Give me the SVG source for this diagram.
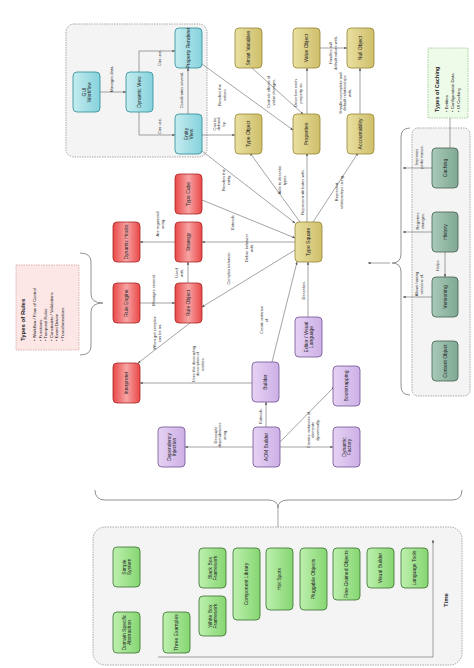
<svg xmlns="http://www.w3.org/2000/svg" width="474" height="668" viewBox="0 0 474 668">
<defs>
<linearGradient id="gC" x1="0" y1="0" x2="1" y2="0"><stop offset="0" stop-color="#c4ecf0"/><stop offset="1" stop-color="#86d2dc"/></linearGradient>
<linearGradient id="gY" x1="0" y1="0" x2="1" y2="0"><stop offset="0" stop-color="#e9df9f"/><stop offset="1" stop-color="#cfbf6c"/></linearGradient>
<linearGradient id="gR" x1="0" y1="0" x2="1" y2="0"><stop offset="0" stop-color="#e94848"/><stop offset="0.5" stop-color="#f7a3a3"/><stop offset="1" stop-color="#e94848"/></linearGradient>
<linearGradient id="gP" x1="0" y1="0" x2="1" y2="0"><stop offset="0" stop-color="#e6d2f4"/><stop offset="1" stop-color="#cdb0e6"/></linearGradient>
<linearGradient id="gG" x1="0" y1="0" x2="1" y2="0"><stop offset="0" stop-color="#a8c9b8"/><stop offset="1" stop-color="#7fa993"/></linearGradient>
<linearGradient id="gL" x1="0" y1="0" x2="1" y2="0"><stop offset="0" stop-color="#bdf0ae"/><stop offset="1" stop-color="#86d672"/></linearGradient>
<marker id="ar" viewBox="0 0 10 10" refX="9" refY="5" markerWidth="5" markerHeight="5" orient="auto"><path d="M0,1 L10,5 L0,9 Z" fill="#555"/></marker>
<style>
text{font-family:"Liberation Sans","DejaVu Sans",sans-serif;fill:#222}
.nl{font-size:5px;text-anchor:middle}
.el{font-size:4px;text-anchor:middle;fill:#333}
.cy{fill:url(#gC);stroke:#2c8c97;stroke-width:0.8}
.ye{fill:url(#gY);stroke:#968636;stroke-width:0.8}
.re{fill:url(#gR);stroke:#a82424;stroke-width:0.8}
.pu{fill:url(#gP);stroke:#6f5192;stroke-width:0.8}
.gg{fill:url(#gG);stroke:#44604f;stroke-width:0.8}
.gl{fill:url(#gL);stroke:#3b6e31;stroke-width:0.8}
.grp{fill:#f4f4f4;stroke:#888;stroke-width:0.7;stroke-dasharray:1.5,1}
.ln{fill:none;stroke:#666;stroke-width:0.6}
.ar{marker-end:url(#ar)}
.br{fill:none;stroke:#777;stroke-width:0.8}
.nt{font-size:4.3px}
</style>
</defs>
<rect width="474" height="668" fill="#fff"/>

<g id="groups">
<rect class="grp" x="66" y="24" width="141" height="133" rx="8"/>
<rect class="grp" x="412" y="128" width="58" height="268" rx="6"/>
<rect class="grp" x="93" y="527" width="369" height="138" rx="12"/>
<path class="br" d="M410,128 Q401,128 401,137 V254 Q401,263 392,263 Q401,263 401,272 V386 Q401,395 410,395"/>
<path class="br" d="M80,253 Q91,253 91,262 V294 Q91,303 103,303 Q91,303 91,312 V346 Q91,355 80,355"/>
<path class="br" d="M95,490 Q95,500 105,500 H268 Q278,500 278,508 Q278,500 288,500 H452 Q462,500 462,490"/>
</g>

<g id="connectors">
<path class="ln ar" d="M100,92 H126"/>
<path class="ln ar" d="M139,72 V51 H175"/>
<path class="ln ar" d="M139,112 V135 H175"/>
<path class="ln ar" d="M188,114 V68"/>
<path class="ln ar" d="M202,135 H235"/>
<path class="ln ar" d="M202,64 L293,130"/>
<path class="ln ar" d="M202,151 L295,223"/>
<path class="ln ar" d="M252,68 L303,114"/>
<path class="ln ar" d="M307,114 V68"/>
<path class="ln ar" d="M320,48 H347"/>
<path class="ln ar" d="M360,114 V68"/>
<path class="ln ar" d="M300,222 L250,153"/>
<path class="ln ar" d="M307,222 V153"/>
<path class="ln ar" d="M313,222 L358,153"/>
<path class="ln ar" d="M202,200 L295,238"/>
<path class="ln ar" d="M295,242 H202"/>
<path class="ln ar" d="M175,242 H140"/>
<path class="ln ar" d="M188,283 V262"/>
<path class="ln ar" d="M295,250 L202,307"/>
<path class="ln ar" d="M140,303 H175"/>
<path class="ln ar" d="M190,323 L138,363"/>
<path class="ln ar" d="M252,383 H140"/>
<path class="ln ar" d="M272,362 L297,262"/>
<path class="ln ar" d="M308,317 V262"/>
<path class="ln ar" d="M266,427 V402"/>
<path class="ln ar" d="M253,447 H185"/>
<path class="ln ar" d="M280,442 L334,387"/>
<path class="ln ar" d="M280,447 H333"/>
<path class="ln ar" d="M432,168 H403"/>
<path class="ln ar" d="M432,232 H403"/>
<path class="ln ar" d="M432,297 H403"/>
<path class="ln ar" d="M445,252 V277"/>
<path class="ln ar" d="M390,263 H368"/>
<path class="ln" d="M450,118 V148"/>
<path class="ln" d="M278,508 V527"/>
<path class="ln ar" d="M158,657 H433 V540"/>
</g>

<g id="edge-labels">
<text class="el" transform="translate(112,79) rotate(-90)"><tspan x="0" dy="0.35em">Manages data.</tspan></text>
<text class="el" transform="translate(160,58) rotate(-90)"><tspan x="0" dy="0.35em">Can use.</tspan></text>
<text class="el" transform="translate(160,126) rotate(-90)"><tspan x="0" dy="0.35em">Can use.</tspan></text>
<text class="el" transform="translate(182,90) rotate(-90)"><tspan x="0" dy="0.35em">Coordinates several.</tspan></text>
<text class="el" transform="translate(222,95) rotate(-90)"><tspan x="0" dy="-0.2em">Renders the</tspan><tspan x="0" dy="1.1em">values</tspan></text>
<text class="el" transform="translate(219,124) rotate(-90)"><tspan x="0" dy="-0.75em">Can be</tspan><tspan x="0" dy="1.1em">defined</tspan><tspan x="0" dy="1.1em">by.</tspan></text>
<text class="el" transform="translate(271,92) rotate(-90)"><tspan x="0" dy="-0.2em">Controls effects of</tspan><tspan x="0" dy="1.1em">value changes.</tspan></text>
<text class="el" transform="translate(298,93) rotate(-90)"><tspan x="0" dy="-0.2em">Describes each</tspan><tspan x="0" dy="1.1em">property as.</tspan></text>
<text class="el" transform="translate(333,53) rotate(-90)"><tspan x="0" dy="-0.2em">Handles null</tspan><tspan x="0" dy="1.1em">default values with.</tspan></text>
<text class="el" transform="translate(345,93) rotate(-90)"><tspan x="0" dy="-0.75em">Handle incomplete and</tspan><tspan x="0" dy="1.1em">default relationships</tspan><tspan x="0" dy="1.1em">with.</tspan></text>
<text class="el" transform="translate(282,180) rotate(-90)"><tspan x="0" dy="-0.2em">Able to describe</tspan><tspan x="0" dy="1.1em">types.</tspan></text>
<text class="el" transform="translate(303,192) rotate(-90)"><tspan x="0" dy="0.35em">Represent attributes with.</tspan></text>
<text class="el" transform="translate(339,192) rotate(-90)"><tspan x="0" dy="-0.2em">Represent</tspan><tspan x="0" dy="1.1em">relationships using.</tspan></text>
<text class="el" transform="translate(226,180) rotate(-90)"><tspan x="0" dy="-0.2em">Renders the</tspan><tspan x="0" dy="1.1em">entity.</tspan></text>
<text class="el" transform="translate(233,222) rotate(-90)"><tspan x="0" dy="0.35em">Extends.</tspan></text>
<text class="el" transform="translate(249,248) rotate(-90)"><tspan x="0" dy="-0.2em">Define behavior</tspan><tspan x="0" dy="1.1em">with.</tspan></text>
<text class="el" transform="translate(160,224) rotate(-90)"><tspan x="0" dy="-0.2em">Are organized</tspan><tspan x="0" dy="1.1em">using.</tspan></text>
<text class="el" transform="translate(179,273) rotate(-90)"><tspan x="0" dy="-0.2em">Used</tspan><tspan x="0" dy="1.1em">with.</tspan></text>
<text class="el" transform="translate(229,268) rotate(-90)"><tspan x="0" dy="0.35em">Complex behavior.</tspan></text>
<text class="el" transform="translate(154,290) rotate(-90)"><tspan x="0" dy="0.35em">Manages several.</tspan></text>
<text class="el" transform="translate(157,333) rotate(-90)"><tspan x="0" dy="-0.2em">When get complex</tspan><tspan x="0" dy="1.1em">can be an.</tspan></text>
<text class="el" transform="translate(198,364) rotate(-90)"><tspan x="0" dy="-0.75em">Uses the decoupling</tspan><tspan x="0" dy="1.1em">description of</tspan><tspan x="0" dy="1.1em">entities.</tspan></text>
<text class="el" transform="translate(264,320) rotate(-90)"><tspan x="0" dy="-0.2em">Create instance</tspan><tspan x="0" dy="1.1em">of.</tspan></text>
<text class="el" transform="translate(304,290) rotate(-90)"><tspan x="0" dy="0.35em">Describes.</tspan></text>
<text class="el" transform="translate(261,416) rotate(-90)"><tspan x="0" dy="0.35em">Extends.</tspan></text>
<text class="el" transform="translate(220,435) rotate(-90)"><tspan x="0" dy="-0.75em">Decouple</tspan><tspan x="0" dy="1.1em">dependencies</tspan><tspan x="0" dy="1.1em">using.</tspan></text>
<text class="el" transform="translate(313,430) rotate(-90)"><tspan x="0" dy="-0.75em">Creates instances of</tspan><tspan x="0" dy="1.1em">elements</tspan><tspan x="0" dy="1.1em">dynamically.</tspan></text>
<text class="el" transform="translate(419,157) rotate(-90)"><tspan x="0" dy="-0.2em">Improves</tspan><tspan x="0" dy="1.1em">performance.</tspan></text>
<text class="el" transform="translate(420,221) rotate(-90)"><tspan x="0" dy="-0.2em">Registers</tspan><tspan x="0" dy="1.1em">changes.</tspan></text>
<text class="el" transform="translate(419,284) rotate(-90)"><tspan x="0" dy="-0.2em">Allows having</tspan><tspan x="0" dy="1.1em">versions of.</tspan></text>
<text class="el" transform="translate(438,265) rotate(-90)"><tspan x="0" dy="0.35em">Helps.</tspan></text>
</g>

<g id="gui"><rect class="cy" x="73" y="72" width="27" height="40" rx="4"/><text class="nl" transform="translate(86.5,92) rotate(-90)"><tspan x="0" dy="-0.2em">GUI</tspan><tspan x="0" dy="1.1em">Workflow</tspan></text></g>
<g id="dynamic-view"><rect class="cy" x="126" y="72" width="27" height="40" rx="4"/><text class="nl" transform="translate(139.5,92) rotate(-90)"><tspan x="0" dy="0.35em">Dynamic View</tspan></text></g>
<g id="property-renderer"><rect class="cy" x="175" y="28" width="27" height="40" rx="4"/><text class="nl" transform="translate(188.5,48) rotate(-90)"><tspan x="0" dy="0.35em">Property Renderer</tspan></text></g>
<g id="entity-view"><rect class="cy" x="175" y="114" width="27" height="40" rx="4"/><text class="nl" transform="translate(188.5,134) rotate(-90)"><tspan x="0" dy="-0.2em">Entity</tspan><tspan x="0" dy="1.1em">View</tspan></text></g>

<g id="smart-variables"><rect class="ye" x="235" y="28" width="27" height="40" rx="4"/><text class="nl" transform="translate(248.5,48) rotate(-90)"><tspan x="0" dy="0.35em">Smart Variables</tspan></text></g>
<g id="value-object"><rect class="ye" x="293" y="28" width="27" height="40" rx="4"/><text class="nl" transform="translate(306.5,48) rotate(-90)"><tspan x="0" dy="0.35em">Value Object</tspan></text></g>
<g id="null-object"><rect class="ye" x="347" y="28" width="27" height="40" rx="4"/><text class="nl" transform="translate(360.5,48) rotate(-90)"><tspan x="0" dy="0.35em">Null Object</tspan></text></g>
<g id="type-object"><rect class="ye" x="235" y="114" width="27" height="40" rx="4"/><text class="nl" transform="translate(248.5,134) rotate(-90)"><tspan x="0" dy="0.35em">Type Object</tspan></text></g>
<g id="properties"><rect class="ye" x="293" y="114" width="27" height="40" rx="4"/><text class="nl" transform="translate(306.5,134) rotate(-90)"><tspan x="0" dy="0.35em">Properties</tspan></text></g>
<g id="accountability"><rect class="ye" x="347" y="114" width="27" height="40" rx="4"/><text class="nl" transform="translate(360.5,134) rotate(-90)"><tspan x="0" dy="0.35em">Accountability</tspan></text></g>
<g id="type-square"><rect class="ye" x="295" y="222" width="27" height="40" rx="4"/><text class="nl" transform="translate(308.5,242) rotate(-90)"><tspan x="0" dy="0.35em">Type Square</tspan></text></g>

<g id="type-cube"><rect class="re" x="175" y="174" width="27" height="40" rx="4"/><text class="nl" transform="translate(188.5,194) rotate(-90)"><tspan x="0" dy="0.35em">Type Cube</tspan></text></g>
<g id="strategy"><rect class="re" x="175" y="222" width="27" height="40" rx="4"/><text class="nl" transform="translate(188.5,242) rotate(-90)"><tspan x="0" dy="0.35em">Strategy</tspan></text></g>
<g id="dynamic-hooks"><rect class="re" x="113" y="222" width="27" height="40" rx="4"/><text class="nl" transform="translate(126.5,242) rotate(-90)"><tspan x="0" dy="0.35em">Dynamic Hooks</tspan></text></g>
<g id="rule-object"><rect class="re" x="175" y="283" width="27" height="40" rx="4"/><text class="nl" transform="translate(188.5,303) rotate(-90)"><tspan x="0" dy="0.35em">Rule Object</tspan></text></g>
<g id="rule-engine"><rect class="re" x="113" y="283" width="27" height="40" rx="4"/><text class="nl" transform="translate(126.5,303) rotate(-90)"><tspan x="0" dy="0.35em">Rule Engine</tspan></text></g>
<g id="interpreter"><rect class="re" x="113" y="363" width="27" height="40" rx="4"/><text class="nl" transform="translate(126.5,383) rotate(-90)"><tspan x="0" dy="0.35em">Interpreter</tspan></text></g>

<g id="builder"><rect class="pu" x="252" y="362" width="27" height="40" rx="4"/><text class="nl" transform="translate(265.5,382) rotate(-90)"><tspan x="0" dy="0.35em">Builder</tspan></text></g>
<g id="editor"><rect class="pu" x="295" y="317" width="27" height="40" rx="4"/><text class="nl" transform="translate(308.5,337) rotate(-90)"><tspan x="0" dy="-0.2em">Editor / Visual</tspan><tspan x="0" dy="1.1em">Language</tspan></text></g>
<g id="bootstrapping"><rect class="pu" x="333" y="366" width="27" height="40" rx="4"/><text class="nl" transform="translate(346.5,386) rotate(-90)"><tspan x="0" dy="0.35em">Bootstrapping</tspan></text></g>
<g id="aom-builder"><rect class="pu" x="253" y="427" width="27" height="40" rx="4"/><text class="nl" transform="translate(266.5,447) rotate(-90)"><tspan x="0" dy="0.35em">AOM Builder</tspan></text></g>
<g id="dependency-injection"><rect class="pu" x="158" y="427" width="27" height="40" rx="4"/><text class="nl" transform="translate(171.5,447) rotate(-90)"><tspan x="0" dy="-0.2em">Dependency</tspan><tspan x="0" dy="1.1em">Injection</tspan></text></g>
<g id="dynamic-factory"><rect class="pu" x="333" y="427" width="27" height="40" rx="4"/><text class="nl" transform="translate(346.5,447) rotate(-90)"><tspan x="0" dy="-0.2em">Dynamic</tspan><tspan x="0" dy="1.1em">Factory</tspan></text></g>

<g id="caching"><rect class="gg" x="432" y="148" width="26" height="40" rx="4"/><text class="nl" transform="translate(445,168) rotate(-90)"><tspan x="0" dy="0.35em">Caching</tspan></text></g>
<g id="history"><rect class="gg" x="432" y="212" width="26" height="40" rx="4"/><text class="nl" transform="translate(445,232) rotate(-90)"><tspan x="0" dy="0.35em">History</tspan></text></g>
<g id="versioning"><rect class="gg" x="432" y="277" width="26" height="40" rx="4"/><text class="nl" transform="translate(445,297) rotate(-90)"><tspan x="0" dy="0.35em">Versioning</tspan></text></g>
<g id="content-object"><rect class="gg" x="432" y="341" width="26" height="40" rx="4"/><text class="nl" transform="translate(445,361) rotate(-90)"><tspan x="0" dy="0.35em">Content Object</tspan></text></g>

<g id="types-of-caching"><rect x="428" y="48" width="40" height="70" fill="#eefbe8" stroke="#8cbf84" stroke-width="0.7" stroke-dasharray="1.5,1"/>
<text transform="translate(439,112) rotate(-90)" font-size="5.5" font-weight="bold">Types of Caching</text>
<text class="nt" transform="translate(448,112) rotate(-90)">•  Entities</text>
<text class="nt" transform="translate(454,112) rotate(-90)">•  Configuration Data</text>
<text class="nt" transform="translate(460,112) rotate(-90)">•  UI Caching</text>
</g>

<g id="types-of-rules"><rect x="16" y="265" width="63" height="85" fill="#fde6e6" stroke="#c99" stroke-width="0.7" stroke-dasharray="1.5,1"/>
<text transform="translate(25,341) rotate(-90)" font-size="6" font-weight="bold">Types of Rules</text>
<text class="nt" transform="translate(36,341) rotate(-90)">•  Workflow / Flow of Control</text>
<text class="nt" transform="translate(41.5,341) rotate(-90)">•  Functions</text>
<text class="nt" transform="translate(47,341) rotate(-90)">•  Temporal Rules</text>
<text class="nt" transform="translate(52.5,341) rotate(-90)">•  Constraints / Validations</text>
<text class="nt" transform="translate(58,341) rotate(-90)">•  Event Driven</text>
<text class="nt" transform="translate(63.5,341) rotate(-90)">•  Transformations</text>
</g>

<g id="simple-system"><rect class="gl" x="113" y="547" width="27" height="40" rx="4"/><text class="nl" transform="translate(126.5,567) rotate(-90)"><tspan x="0" dy="-0.2em">Simple</tspan><tspan x="0" dy="1.1em">System</tspan></text></g>
<g id="domain-specific-abstraction"><rect class="gl" x="113" y="612" width="27" height="41" rx="4"/><text class="nl" transform="translate(126.5,632.5) rotate(-90)"><tspan x="0" dy="-0.2em">Domain Specific</tspan><tspan x="0" dy="1.1em">Abstraction</tspan></text></g>
<g id="three-examples"><rect class="gl" x="163" y="612" width="27" height="41" rx="4"/><text class="nl" transform="translate(176.5,632.5) rotate(-90)"><tspan x="0" dy="0.35em">Three Examples</tspan></text></g>
<g id="black-box-framework"><rect class="gl" x="199" y="548" width="27" height="40" rx="4"/><text class="nl" transform="translate(212.5,568) rotate(-90)"><tspan x="0" dy="-0.2em">Black Box</tspan><tspan x="0" dy="1.1em">Framework</tspan></text></g>
<g id="white-box-framework"><rect class="gl" x="199" y="596" width="27" height="40" rx="4"/><text class="nl" transform="translate(212.5,616) rotate(-90)"><tspan x="0" dy="-0.2em">White Box</tspan><tspan x="0" dy="1.1em">Framework</tspan></text></g>
<g id="component-library"><rect class="gl" x="233" y="548" width="27" height="72" rx="4"/><text class="nl" transform="translate(246.5,584) rotate(-90)"><tspan x="0" dy="0.35em">Component Library</tspan></text></g>
<g id="hot-spots"><rect class="gl" x="266" y="548" width="27" height="62" rx="4"/><text class="nl" transform="translate(279.5,579) rotate(-90)"><tspan x="0" dy="0.35em">Hot Spots</tspan></text></g>
<g id="pluggable-objects"><rect class="gl" x="300" y="548" width="27" height="62" rx="4"/><text class="nl" transform="translate(313.5,579) rotate(-90)"><tspan x="0" dy="0.35em">Pluggable Objects</tspan></text></g>
<g id="fine-grained-objects"><rect class="gl" x="333" y="548" width="27" height="52" rx="4"/><text class="nl" transform="translate(346.5,574) rotate(-90)"><tspan x="0" dy="0.35em">Fine-Grained Objects</tspan></text></g>
<g id="visual-builder"><rect class="gl" x="367" y="548" width="27" height="40" rx="4"/><text class="nl" transform="translate(380.5,568) rotate(-90)"><tspan x="0" dy="0.35em">Visual Builder</tspan></text></g>
<g id="language-tools"><rect class="gl" x="401" y="548" width="27" height="40" rx="4"/><text class="nl" transform="translate(414.5,568) rotate(-90)"><tspan x="0" dy="0.35em">Language Tools</tspan></text></g>
<text transform="translate(446,600) rotate(-90)" font-size="6" font-weight="bold" text-anchor="middle" dy="0.35em">Time</text>
</svg>
